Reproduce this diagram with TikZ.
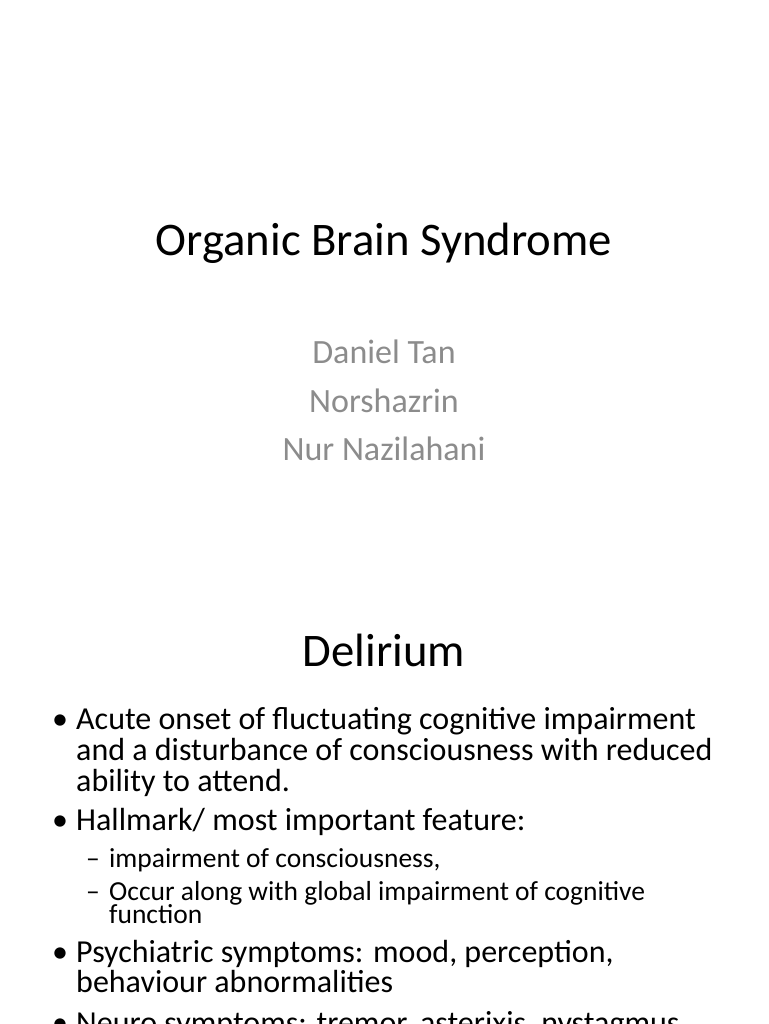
\documentclass[tikz,border=0pt]{standalone}
\usepackage{fontspec}
\setmainfont{Carlito}
\begin{document}
\begin{tikzpicture}[x=1pt,y=-1pt,
 slidetitle/.style={font=\fontsize{46.7}{52}\selectfont,inner sep=0},
 persname/.style={font=\fontsize{34}{38}\selectfont,text=black!45,inner sep=0},
 bodytext/.style={font=\fontsize{32}{34}\selectfont,inner sep=0,anchor=mid west},
 subtext/.style={font=\fontsize{27.5}{30}\selectfont,inner sep=0,anchor=mid west}]
\useasboundingbox (0,0) rectangle (768,1024);
\clip (0,0) rectangle (768,1024);
\fill[white] (0,0) rectangle (768,1024);
\node[slidetitle] (t1) at (384,243) {Organic Brain Syndrome};
\node[persname] (n1) at (384,352) {Daniel Tan};
\node[persname] (n2) at (384,401) {Norshazrin};
\node[persname] (n3) at (384,449) {Nur Nazilahani};
\node[slidetitle] (t2) at (384,650) {Delirium};
\node[bodytext] (b1a) at (52,727) {•};
\node[bodytext] (l1) at (76,727) {Acute onset of fluctuating cognitive impairment};
\node[bodytext] (l2) at (76,758) {and a disturbance of consciousness with reduced};
\node[bodytext] (l3) at (76,789) {ability to attend.};
\node[bodytext] (b2) at (52,828) {•};
\node[bodytext] (l4) at (76,828) {Hallmark/ most important feature:};
\node[subtext] (d1) at (86,865) {–};
\node[subtext] (s1) at (109,865) {impairment of consciousness,};
\node[subtext] (d2) at (86,898) {–};
\node[subtext] (s2) at (109,898) {Occur along with global impairment of cognitive};
\node[subtext] (s3) at (109,921) {function};
\node[bodytext] (b3) at (52,960) {•};
\node[bodytext] (l5) at (76,960) {Psychiatric symptoms: mood, perception,};
\node[bodytext] (l6) at (76,990) {behaviour abnormalities};
\node[bodytext] (b4) at (52,1031) {•};
\node[bodytext] (l7) at (76,1031) {Neuro symptoms: tremor, asterixis, nystagmus,};
\end{tikzpicture}
\end{document}
